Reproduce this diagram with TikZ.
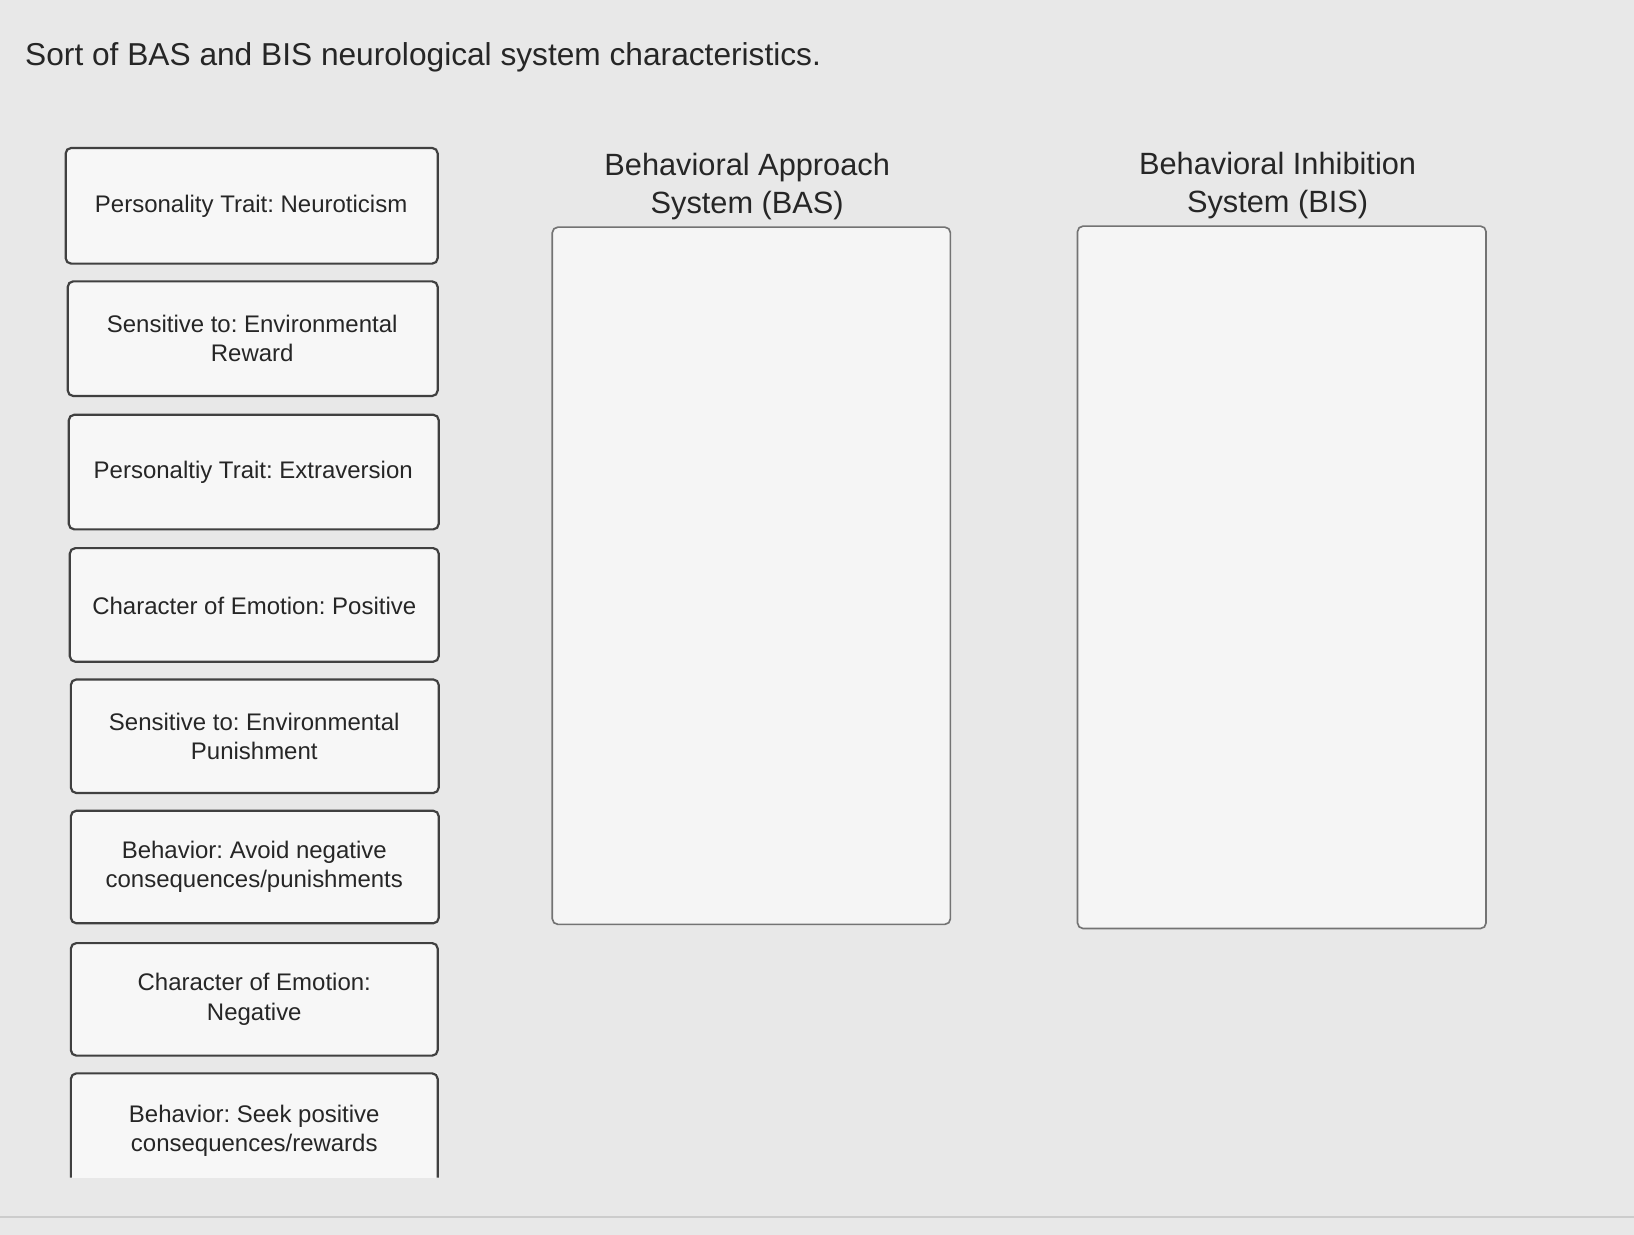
\documentclass[tikz,border=0pt]{standalone}
\usepackage{fontspec}
\setmainfont{Liberation Sans}
\frenchspacing
\begin{document}
\begin{tikzpicture}[x=0.02cm,y=-0.02cm,
  card/.style={draw=black!75,line width=1.2pt,rounded corners=3pt,fill=black!3},
  cardtxt/.style={font=\fontsize{13.1}{16}\selectfont,align=center,text=black!85},
  head/.style={font=\fontsize{16.8}{20.5}\selectfont,align=center,text=black!85},
  zone/.style={draw=black!55,line width=0.9pt,rounded corners=3pt,fill=black!4}]
\fill[black!9] (0,0) rectangle (1568,1185);
\useasboundingbox (0,0) rectangle (1568,1185);
\node[anchor=west,font=\fontsize{17.3}{20}\selectfont,text=black!85] (title) at (18,55) {Sort of BAS and BIS neurological system characteristics.};
\draw[card] (63,142) rectangle (420,253); \node[cardtxt] (c1) at (241,198) {Personality Trait: Neuroticism};
\draw[card] (65,270) rectangle (420,380); \node[cardtxt] (c2) at (242,325) {Sensitive to: Environmental\\Reward};
\draw[card] (66,398) rectangle (421,508); \node[cardtxt] (c3) at (243,453) {Personaltiy Trait: Extraversion};
\draw[card] (67,526) rectangle (421,635); \node[cardtxt] (c4) at (244,581) {Character of Emotion: Positive};
\draw[card] (68,652) rectangle (421,761); \node[cardtxt] (c5) at (244,707) {Sensitive to: Environmental\\Punishment};
\draw[card] (68,778) rectangle (421,886); \node[cardtxt] (c6) at (244,832) {Behavior: Avoid negative\\consequences/punishments};
\draw[card] (68,905) rectangle (420,1013); \node[cardtxt] (c7) at (244,959) {Character of Emotion:\\Negative};
\fill[black!3] (68,1130) -- (68,1030) -- (420,1030) -- (420,1130) -- cycle;
\draw[draw=black!75,line width=1.2pt,rounded corners=3pt] (68,1130) -- (68,1030) -- (420,1030) -- (420,1130);
\node[cardtxt] (c8) at (244,1085) {Behavior: Seek positive\\consequences/rewards};
\node[head] (h1) at (717,179) {Behavioral Approach\\System (BAS)};
\node[head] (h2) at (1226,178) {Behavioral Inhibition\\System (BIS)};
\draw[zone] (530,218) rectangle (912,887);
\draw[zone] (1034,217) rectangle (1426,891);
\draw[black!20,line width=0.8pt] (0,1168) -- (1568,1168);
\end{tikzpicture}
\end{document}
